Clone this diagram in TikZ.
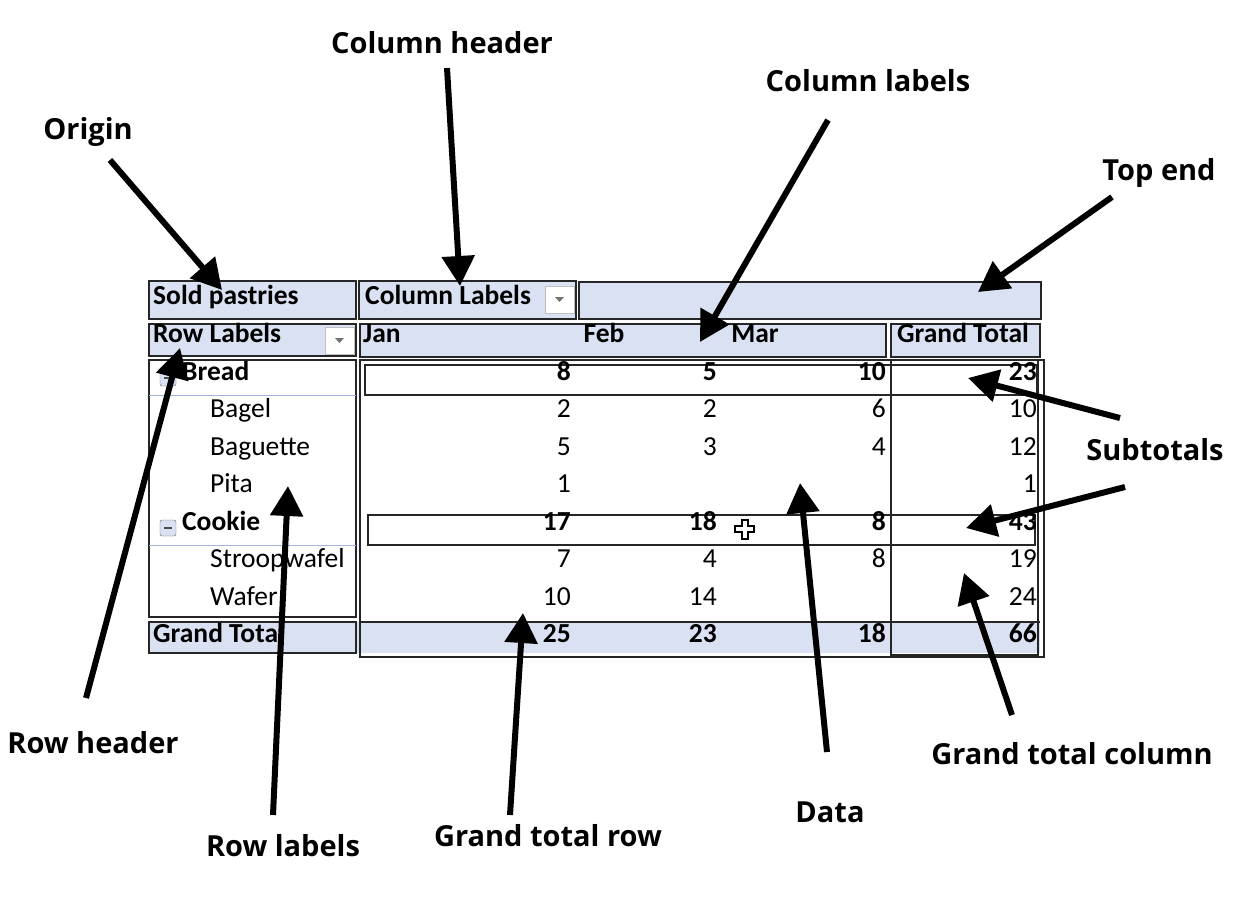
\documentclass[tikz,border=0pt]{standalone}
\usepackage{fontspec}
\setmainfont{Carlito}
\newfontfamily\lab{Open Sans}
\usetikzlibrary{arrows.meta}
\definecolor{hdr}{RGB}{217,225,242}
\definecolor{sep}{RGB}{160,180,220}
\begin{document}
\begin{tikzpicture}[x=1pt,y=-1pt,
  box/.style={draw=black!85,line width=1.2pt},
  hbox/.style={box,fill=hdr},
  t/.style={font=\fontsize{27.5}{27.5}\selectfont,inner sep=0pt,text height=0.66em,text depth=0.2em},
  tb/.style={t,font=\fontsize{27.5}{27.5}\selectfont\bfseries},
  lb/.style={font=\lab\fontsize{29}{29}\selectfont\bfseries,inner sep=0pt},
  arr/.style={line width=6pt,-{Triangle[length=30pt,width=32pt]}}]
\useasboundingbox (0,0) rectangle (1240,908);
% header boxes
\draw[hbox] (149,281) rectangle (356,319);
\draw[hbox] (359,281) rectangle (576,319);
\draw[hbox] (579,282) rectangle (1041,319);
\draw[hbox] (149,324) rectangle (356,356);
\draw[hbox] (360,324) rectangle (886,357);
\draw[hbox] (891,324) rectangle (1040,357);
\fill[hdr] (149,622) rectangle (1040,653);
\draw[box] (149,622) rectangle (356,653);
% body boxes
\draw[box] (149,360) rectangle (356,617);
\draw[box] (360,360) rectangle (1044,657);
\draw[box] (891,360) rectangle (1038,655);
\draw[box] (365,365) rectangle (1037,395);
\draw[box] (368,515) rectangle (1035,545);
\draw[box] (360,622) -- (1040,622);
\draw[sep,line width=1pt] (149,395) -- (356,395) (149,545) -- (356,545);
% dropdown buttons
\foreach \x/\y in {325/327,545/286}{
  \draw[black!25,fill=white] (\x,\y) rectangle ++(29,27);
  \fill[black!55] (\x+10,\y+11) -- ++(9,0) -- ++(-4.5,5) -- cycle;}
% minus icons
\foreach \y in {370,520}{
  \draw[black!60,fill=hdr,rounded corners=2pt] (160,\y) rectangle ++(16,16);
  \draw[black!70,line width=1.2pt] (164,\y+8) -- ++(8,0);}
% texts
\node[tb,anchor=west] (t1) at (153,302) {Sold pastries};
\node[tb,anchor=west] (t2) at (365,302) {Column Labels};
\node[tb,anchor=west] (t3) at (153,340) {Row Labels};
\node[tb,anchor=west] (m1) at (363,340) {Jan};
\node[tb] (m2) at (604,340) {Feb};
\node[tb] (m3) at (755,340) {Mar};
\node[tb,anchor=west] (gt) at (897,340) {Grand Total};
\node[tb,anchor=west] (r1) at (182,378) {Bread};
\node[t,anchor=west] (r2) at (210,415) {Bagel};
\node[t,anchor=west] (r3) at (210,453) {Baguette};
\node[t,anchor=west] (r4) at (210,490) {Pita};
\node[tb,anchor=west] (r5) at (182,528) {Cookie};
\node[t,anchor=west] (r6) at (210,565) {Stroopwafel};
\node[t,anchor=west] (r7) at (210,603) {Wafer};
\node[tb,anchor=west] (r8) at (153,640) {Grand Total};
\foreach \y/\a/\b/\c/\d/\s in {378/8/5/10/23/tb,415/2/2/6/10/t,453/5/3/4/12/t,490/1//{}/1/t,528/17/18/8/43/tb,565/7/4/8/19/t,603/10/14//24/t,640/25/23/18/66/tb}{
  \node[\s,anchor=east] at (571,\y) {\a};
  \node[\s,anchor=east] at (717,\y) {\b};
  \node[\s,anchor=east] at (886,\y) {\c};
  \node[\s,anchor=east] at (1037,\y) {\d};}
% cursor
\draw[line width=1.3pt,fill=white] (742,520)--(748,520)--(748,526)--(754,526)--(754,532)--(748,532)--(748,539)--(742,539)--(742,532)--(735,532)--(735,526)--(742,526)--cycle;
% labels
\node[lb] (L1) at (88,132) {Origin};
\node[lb] (L2) at (442,43) {Column header};
\node[lb] (L3) at (868,81) {Column labels};
\node[lb] (L4) at (1159,173) {Top end};
\node[lb] (L5) at (1155,450) {Subtotals};
\node[lb] (L6) at (93,743) {Row header};
\node[lb] (L7) at (283,846) {Row labels};
\node[lb] (L8) at (548,836) {Grand total row};
\node[lb] (L9) at (830,812) {Data};
\node[lb] (L10) at (1072,754) {Grand total column};
% arrow ends
\coordinate (a1) at (110,160); \coordinate (b1) at (222,290);
\coordinate (a2) at (447,68);  \coordinate (b2) at (460,286);
\coordinate (a3) at (828,120); \coordinate (b3) at (700,342);
\coordinate (a4) at (1112,197);\coordinate (b4) at (978,292);
\coordinate (a5) at (1120,418);\coordinate (b5) at (968,378);
\coordinate (a6) at (1125,487);\coordinate (b6) at (966,528);
\coordinate (a7) at (86,698);  \coordinate (b7) at (180,348);
\coordinate (a8) at (273,815); \coordinate (b8) at (288,486);
\coordinate (a9) at (510,815); \coordinate (b9) at (523,613);
\coordinate (a10) at (827,752);\coordinate (b10) at (800,483);
\coordinate (a11) at (1012,715);\coordinate (b11) at (964,573);
\foreach \i in {1,...,11}{\draw[arr] (a\i) -- (b\i);}
\end{tikzpicture}
\end{document}
